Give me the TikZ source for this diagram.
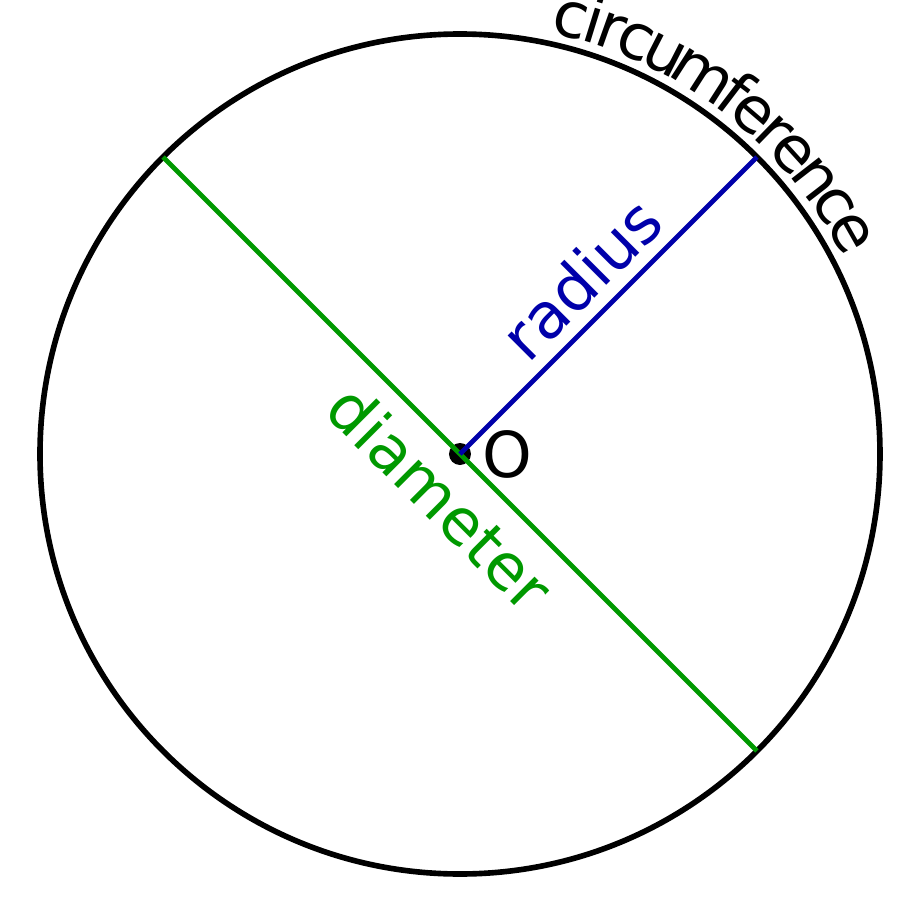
\documentclass[tikz,border=0pt]{standalone}
\usepackage{fontspec}
\setmainfont{DejaVu Sans}
\usetikzlibrary{decorations.text}
\definecolor{diamgreen}{RGB}{0,153,0}
\definecolor{radblue}{RGB}{0,0,170}
\begin{document}
\begin{tikzpicture}[lbl/.style={font=\fontsize{18}{18}\selectfont}]
	\useasboundingbox (-4.6,-4.46) rectangle (4.4,4.54);
	%points
	\coordinate (O) at (0,0);
	\coordinate (R) at (45:4.2);
	\coordinate (D1) at (135:4.2);
	\coordinate (D2) at (-45:4.2);
	%circle
	\draw[line width=1.6pt] (O) circle (4.2);
	\fill (O) circle (0.11);
	%lines
	\draw[diamgreen, line width=1.35pt] (D1) -- (D2)
	node[lbl, pos=0.52, sloped, below, yshift=-0.06cm] {diameter};
	\draw[radblue, line width=1.35pt] (O) -- (R)
	node[lbl, midway, sloped, above] {radius};
	%labels
	\node[lbl, anchor=west, xshift=0.1cm] (olabel) at (O) {O};
	\path[decorate, decoration={text effects along path, text={circumference},
		text effects/.cd, text along path, fit text to path,
		every character/.style={lbl}}]
	(O) ++(78:4.31) arc[start angle=78, end angle=27, radius=4.31];
\end{tikzpicture}
\end{document}
